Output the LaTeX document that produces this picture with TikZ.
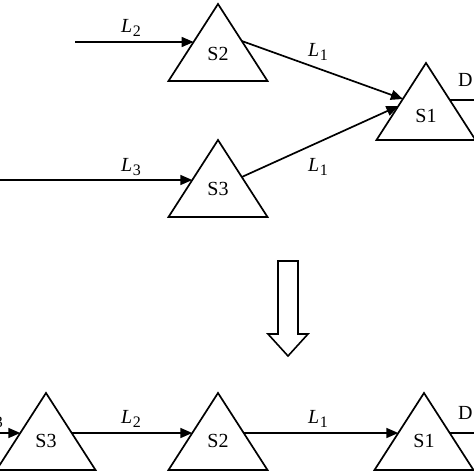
\documentclass[tikz,border=0pt]{standalone}
\usepackage{fontspec}
\setmainfont{Liberation Serif}
\usetikzlibrary{arrows.meta,calc}
\tikzset{
  tri/.style={draw=black,line width=1.7pt,line join=miter},
  conn/.style={draw=black,line width=1.7pt,-{Triangle[length=12pt,width=10pt]}},
  plain/.style={draw=black,line width=1.7pt},
  lab/.style={inner sep=0pt,font=\fontsize{20}{22}\selectfont,anchor=base},
  hollow/.style={draw=black,line width=1.6pt,fill=white,line join=miter}
}
\newcommand\Lsub[1]{\textit{L}\kern0.5pt\raisebox{-4pt}{\fontsize{16}{16}\selectfont #1}}
\begin{document}
\begin{tikzpicture}[x=1pt,y=-1pt]
\useasboundingbox (0,0) rectangle (474,474);
% ---- top part ----
\coordinate (ts2-a) at (218,4);
\coordinate (ts2-l) at (168.5,81);
\coordinate (ts2-r) at (267.5,81);
\draw[tri] (ts2-a) -- (ts2-l) -- (ts2-r) -- cycle;
\node[lab] (ts2) at (218,60) {S2};
\coordinate (ts3-a) at (218,140);
\coordinate (ts3-l) at (168.5,217);
\coordinate (ts3-r) at (267.5,217);
\draw[tri] (ts3-a) -- (ts3-l) -- (ts3-r) -- cycle;
\node[lab] (ts3) at (218,195) {S3};
\coordinate (ts1-a) at (426,63);
\coordinate (ts1-l) at (376.5,140);
\coordinate (ts1-r) at (475.5,140);
\draw[tri] (ts1-a) -- (ts1-l) -- (ts1-r) -- cycle;
\node[lab] (ts1) at (426,122) {S1};
\coordinate (inL2) at (75,42);
\coordinate (ts2in) at (193.6,42);
\coordinate (ts2out) at (241.8,41);
\coordinate (ts1inA) at (402.9,99);
\coordinate (inL3) at (-2,180);
\coordinate (ts3in) at (192.3,180);
\coordinate (ts3out) at (241.8,177);
\coordinate (ts1inB) at (398.4,106);
\coordinate (ts1out) at (449.8,100);
\coordinate (outT) at (476,100);
\draw[conn] (inL2) -- (ts2in);
\draw[conn] (ts2out) -- (ts1inA);
\draw[conn] (inL3) -- (ts3in);
\draw[conn] (ts3out) -- (ts1inB);
\draw[plain] (ts1out) -- (outT);
\node[lab] (lL2) at (131,32) {\Lsub{2}};
\node[lab] (lL1a) at (318,56) {\Lsub{1}};
\node[lab] (lL3) at (131,171) {\Lsub{3}};
\node[lab] (lL1b) at (318,171) {\Lsub{1}};
\node[lab,anchor=base west] (lDt) at (458,86) {D};
% ---- hollow arrow ----
\draw[hollow] (278,261) -- (298,261) -- (298,334) -- (308,334) -- (288,356) -- (268,334) -- (278,334) -- cycle;
% ---- bottom part ----
\coordinate (bs3-a) at (46,393);
\coordinate (bs3-l) at (-3.5,470);
\coordinate (bs3-r) at (95.5,470);
\draw[tri] (bs3-a) -- (bs3-l) -- (bs3-r) -- cycle;
\node[lab] (bs3) at (46,447) {S3};
\coordinate (bs2-a) at (218,393);
\coordinate (bs2-l) at (168.5,470);
\coordinate (bs2-r) at (267.5,470);
\draw[tri] (bs2-a) -- (bs2-l) -- (bs2-r) -- cycle;
\node[lab] (bs2) at (218,447) {S2};
\coordinate (bs1-a) at (424,393);
\coordinate (bs1-l) at (374.5,470);
\coordinate (bs1-r) at (473.5,470);
\draw[tri] (bs1-a) -- (bs1-l) -- (bs1-r) -- cycle;
\node[lab] (bs1) at (424,447) {S1};
\coordinate (inB) at (-2,433);
\coordinate (bs3in) at (20.3,433);
\coordinate (bs3out) at (71.7,433);
\coordinate (bs2in) at (192.3,433);
\coordinate (bs2out) at (243.7,433);
\coordinate (bs1in) at (398.3,433);
\coordinate (bs1out) at (449.7,433);
\coordinate (outB) at (476,433);
\draw[conn] (inB) -- (bs3in);
\draw[conn] (bs3out) -- (bs2in);
\draw[conn] (bs2out) -- (bs1in);
\draw[plain] (bs1out) -- (outB);
\node[lab,anchor=base east] (lL3b) at (3,423) {\Lsub{3}};
\node[lab] (lL2b) at (131,423) {\Lsub{2}};
\node[lab] (lL1c) at (318,423) {\Lsub{1}};
\node[lab,anchor=base west] (lDb) at (458,419) {D};
\end{tikzpicture}
\end{document}
